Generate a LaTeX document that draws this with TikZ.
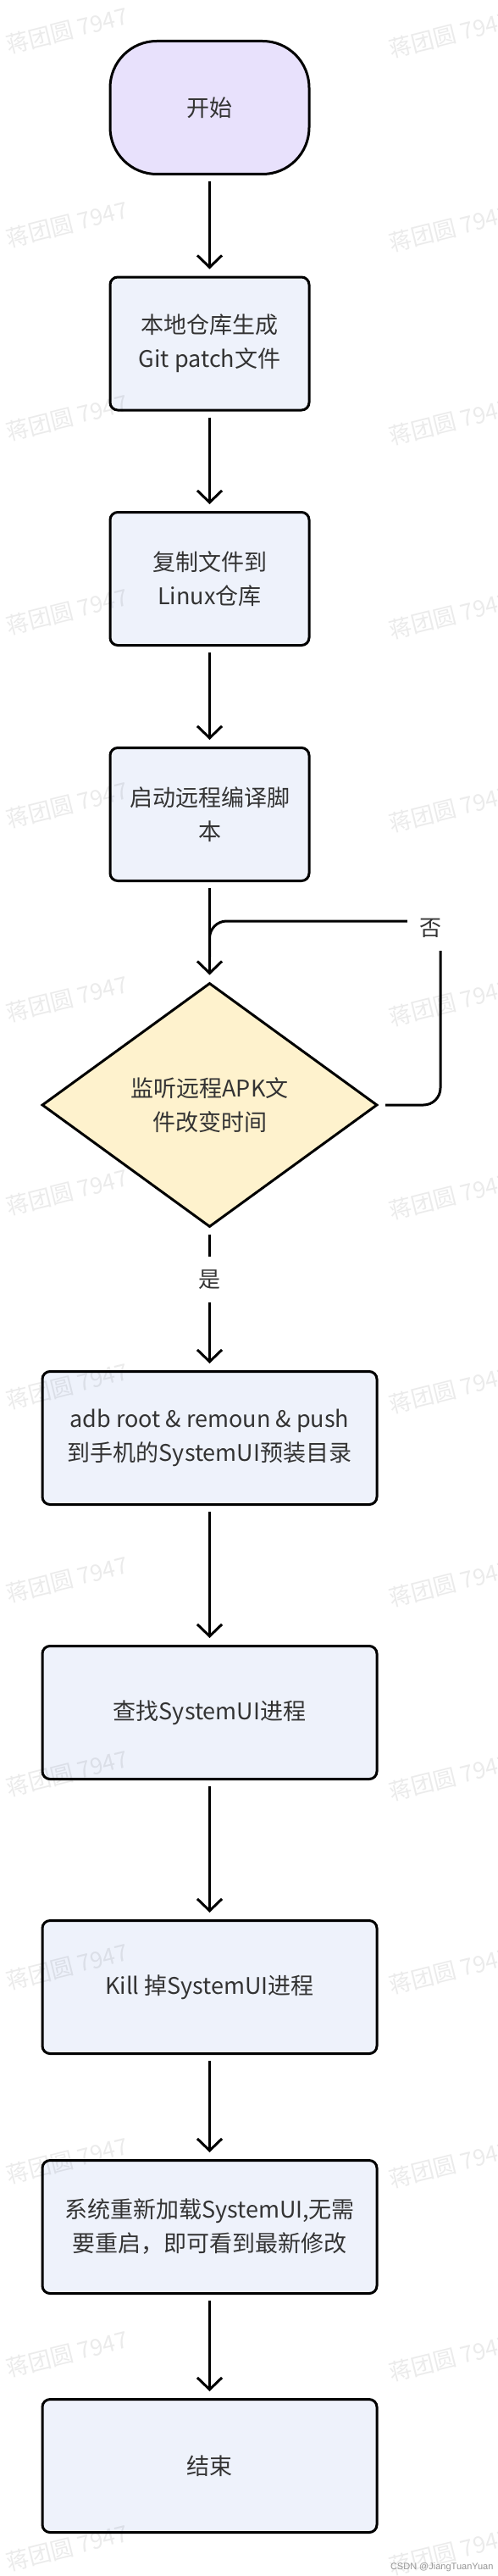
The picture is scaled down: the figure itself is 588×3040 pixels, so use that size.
\documentclass[tikz,border=0pt]{standalone}
\usepackage{fontspec}
\setmainfont{Noto Sans CJK SC}
\newfontfamily\creditfont{Liberation Sans}
\usepackage{tikz}
\usetikzlibrary{shapes.geometric, arrows.meta}
\definecolor{textgray}{RGB}{51,51,51}
\definecolor{startcolor}{RGB}{232,225,252}
\definecolor{processcolor}{RGB}{238,242,251}
\definecolor{decisioncolor}{RGB}{254,242,205}
\definecolor{creditgray}{RGB}{150,150,150}

\begin{document}
\begin{tikzpicture}[
    x=1pt, y=-1pt,
    startend/.style={draw, line width=3pt, fill=startcolor, rounded corners=55pt, minimum width=235pt, minimum height=157pt, align=center, text=textgray, font=\fontsize{27}{40}\selectfont},
    process/.style={draw, line width=3pt, fill=processcolor, rounded corners=9pt, minimum width=235pt, minimum height=157pt, align=center, text=textgray, font=\fontsize{27}{40}\selectfont},
    widebox/.style={process, minimum width=395pt},
    decision/.style={diamond, draw, line width=3pt, fill=decisioncolor, minimum width=396pt, minimum height=288pt, inner sep=0pt, align=center, text=textgray, font=\fontsize{27}{40}\selectfont},
    choice/.style={fill=white, inner sep=0pt, minimum width=56pt, minimum height=54pt, text=textgray, font=\fontsize{26}{30}\selectfont},
    arrow/.style={-{Straight Barb[length=14pt, width=29pt]}, line width=3pt, shorten <=7pt, shorten >=8pt},
    line/.style={line width=3pt},
    watermark/.style={rotate=14, text=black, text opacity=0.08, font=\fontsize{27}{30}\selectfont}
]
    % page
    \fill[white] (0,0) rectangle (588,3040);
    \useasboundingbox (0,0) rectangle (588,3040);

    % Steps
    \node[startend] (start) at (247.5,127) {开始};
    \node[process] (gitpatch) at (247.5,405.5) {本地仓库生成\\Git patch文件};
    \node[process] (copy) at (247.5,683) {复制文件到\\Linux仓库};
    \node[process] (compile) at (247.5,961) {启动远程编译脚\\本};
    \node[decision] (watch) at (247.5,1304) {监听远程APK文\\件改变时间};
    \node[widebox] (push) at (247.5,1697) {adb root \& remoun \& push\\到手机的SystemUI预装目录};
    \node[widebox] (find) at (247.5,2021) {查找SystemUI进程};
    \node[widebox] (kill) at (247.5,2345) {Kill 掉SystemUI进程};
    \node[widebox] (reload) at (247.5,2628) {系统重新加载SystemUI,无需\\要重启，即可看到最新修改};
    \node[widebox] (stop) at (247.5,2910) {结束};

    % Flow
    \draw[arrow] (start) -- (gitpatch);
    \draw[arrow] (gitpatch) -- (copy);
    \draw[arrow] (copy) -- (compile);
    \draw[arrow] (compile) -- (watch);
    \draw[arrow] (watch) -- (push);
    \draw[arrow] (push) -- (find);
    \draw[arrow] (find) -- (kill);
    \draw[arrow] (kill) -- (reload);
    \draw[arrow] (reload) -- (stop);

    % Loop back
    \coordinate (nocorner) at (520,1087);
    \coordinate (merge) at (247.5,1130);
    \draw[line, rounded corners=20pt, shorten <=8pt] (watch.east) -| (nocorner) -| (merge);
    \node[choice] (no) at (508.5,1095) {否};
    \node[choice] (yes) at (247.5,1510) {是};

    % Watermarks
    \foreach \k in {0,...,13} {
        \node[watermark] (markl\k) at (79,36+228.5*\k) {蒋团圆 7947};
        \node[watermark] (markr\k) at (531,41+228.5*\k) {蒋团圆 7947};
    }
    \node[text=creditgray, font=\creditfont\fontsize{11}{13}\selectfont, anchor=east] (credit) at (586,3030) {CSDN @JiangTuanYuan};
\end{tikzpicture}
\end{document}
